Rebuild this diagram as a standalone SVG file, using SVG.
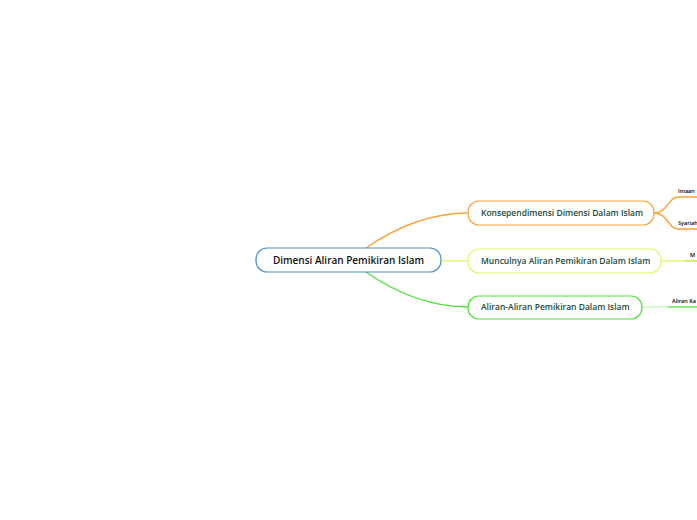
<svg xmlns="http://www.w3.org/2000/svg" width="697" height="520" viewBox="0 0 697 520">
<style>
.n{fill:#fff;stroke-width:1.2}
.t{font-family:"Open Sans","Noto Sans",sans-serif;font-weight:600;font-size:8.5px;fill:#1c4a3a}
.s{font-family:"Open Sans","Noto Sans",sans-serif;font-weight:600;font-size:5.5px;fill:#000}
.c{fill:none;stroke-width:1.3}
</style>
<rect width="697" height="520" fill="#fff"/>
<g id="connectors">
<path class="c" stroke="#f9a23a" d="M366,248 C395,228 430,213 468,213"/>
<path class="c" stroke="#e4f56a" d="M441,261 L468,261"/>
<path class="c" stroke="#4fe33a" d="M366,272 C395,292 430,307 468,307"/>
<path class="c" stroke="#f9a23a" d="M654,213 C668,213 668,197 678,197 L697,197 M654,213 C668,213 668,229 678,229 L697,229"/>
<path class="c" stroke="#e4f56a" d="M661,261 L685,261"/><path class="c" stroke="#b6e01e" d="M685,261 L697,261"/>
<path class="c" stroke="#c7f5bd" d="M642,307 L668,307"/><path class="c" stroke="#4fe33a" d="M668,307 L697,307"/>
</g>
<g id="center"><rect class="n" stroke="#4a90c8" x="256" y="248" width="185" height="24" rx="11"/><text x="348.5" y="264" text-anchor="middle" style="font-family:'Open Sans','Noto Sans',sans-serif;font-weight:600;font-size:10px;fill:#111">Dimensi Aliran Pemikiran Islam</text></g>
<g id="n1"><rect class="n" stroke="#f9a23a" x="468" y="201" width="186" height="24" rx="11"/><text class="t" x="481" y="216">Konsependimensi Dimensi Dalam Islam</text></g>
<g id="n2"><rect class="n" stroke="#e4f56a" x="468" y="249" width="193" height="24" rx="11"/><text class="t" x="481" y="264">Munculnya Aliran Pemikiran Dalam Islam</text></g>
<g id="n3"><rect class="n" stroke="#4fe33a" x="468" y="296" width="174" height="23" rx="11"/><text class="t" x="481" y="310">Aliran-Aliran Pemikiran Dalam Islam</text></g>
<g id="s1"><text class="s" x="678" y="193">Imaan</text></g>
<g id="s2"><text class="s" x="678" y="225">Syariah</text></g>
<g id="s3"><text class="s" x="690" y="257">M</text></g>
<g id="s4"><text class="s" x="672" y="303">Aliran Ka</text></g>
</svg>
